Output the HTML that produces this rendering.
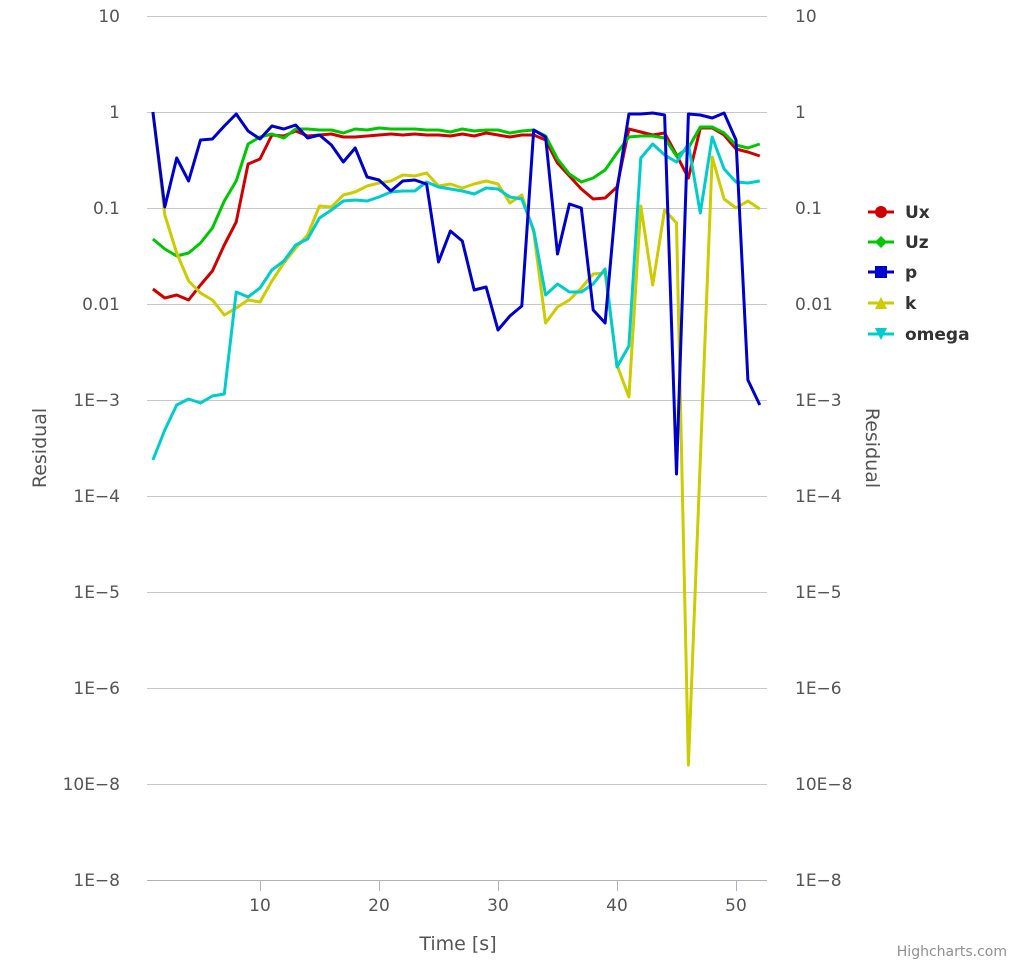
<!DOCTYPE html>
<html><head><meta charset="utf-8"><style>
body{margin:0;background:#fff;}
svg{display:block;font-family:"DejaVu Sans","Liberation Sans",sans-serif;}
</style></head><body>
<svg width="1024" height="964" viewBox="0 0 1024 964" xmlns="http://www.w3.org/2000/svg">
<g stroke="#c8c8c8" stroke-width="1">
<line x1="147" x2="767" y1="16.5" y2="16.5"/><line x1="147" x2="767" y1="112.5" y2="112.5"/>
<line x1="147" x2="767" y1="208.5" y2="208.5"/><line x1="147" x2="767" y1="304.5" y2="304.5"/>
<line x1="147" x2="767" y1="400.5" y2="400.5"/><line x1="147" x2="767" y1="496.5" y2="496.5"/>
<line x1="147" x2="767" y1="592.5" y2="592.5"/><line x1="147" x2="767" y1="688.5" y2="688.5"/>
<line x1="147" x2="767" y1="784.5" y2="784.5"/>
</g>
<line x1="147" x2="767" y1="880.5" y2="880.5" stroke="#b0b0c0"/>
<g stroke="#b0b0c0"><line x1="260.5" x2="260.5" y1="880" y2="891"/><line x1="379.5" x2="379.5" y1="880" y2="891"/><line x1="498.5" x2="498.5" y1="880" y2="891"/><line x1="617.5" x2="617.5" y1="880" y2="891"/><line x1="736.5" x2="736.5" y1="880" y2="891"/></g>
<g font-size="17" fill="#555" text-anchor="end">
<text x="120" y="22">10</text><text x="120" y="118">1</text><text x="120" y="214">0.1</text><text x="120" y="310">0.01</text><text x="120" y="406">1E−3</text><text x="120" y="502">1E−4</text><text x="120" y="598">1E−5</text><text x="120" y="694">1E−6</text><text x="120" y="790">10E−8</text><text x="120" y="886">1E−8</text>
</g>
<g font-size="17" fill="#555" text-anchor="start">
<text x="795" y="22">10</text><text x="795" y="118">1</text><text x="795" y="214">0.1</text><text x="795" y="310">0.01</text><text x="795" y="406">1E−3</text><text x="795" y="502">1E−4</text><text x="795" y="598">1E−5</text><text x="795" y="694">1E−6</text><text x="795" y="790">10E−8</text><text x="795" y="886">1E−8</text>
</g>
<g font-size="17" fill="#555" text-anchor="middle">
<text x="260" y="911">10</text><text x="379" y="911">20</text><text x="498" y="911">30</text><text x="617" y="911">40</text><text x="736" y="911">50</text>
</g>
<text x="458" y="950" font-size="19" fill="#555" text-anchor="middle">Time [s]</text>
<text transform="translate(46,448) rotate(-90)" font-size="19" fill="#555" text-anchor="middle">Residual</text>
<text transform="translate(866,448) rotate(90)" font-size="19" fill="#555" text-anchor="middle">Residual</text>
<text x="1007" y="956" font-size="14" fill="#909090" text-anchor="end">Highcharts.com</text>
<g fill="none" stroke-width="3" stroke-linejoin="round" id="series"></g>
<g font-size="17" font-weight="bold" fill="#333">
<line x1="868" x2="894" y1="212" y2="212" stroke="#d00000" stroke-width="3"/><circle cx="881" cy="212" r="6" fill="#d00000"/><text x="905" y="218">Ux</text>
<line x1="868" x2="894" y1="242" y2="242" stroke="#00c800" stroke-width="3"/><path d="M881 236 L887 242 L881 248 L875 242Z" fill="#00c800"/><text x="905" y="248">Uz</text>
<line x1="868" x2="894" y1="272" y2="272" stroke="#0000cc" stroke-width="3"/><rect x="875" y="266" width="12" height="12" fill="#0000cc"/><text x="905" y="278">p</text>
<line x1="868" x2="894" y1="303" y2="303" stroke="#cccc00" stroke-width="3"/><path d="M881 297 L887 309 L875 309Z" fill="#cccc00"/><text x="905" y="309">k</text>
<line x1="868" x2="894" y1="334" y2="334" stroke="#00cccc" stroke-width="3"/><path d="M875 328 L887 328 L881 340Z" fill="#00cccc"/><text x="905" y="340">omega</text>
</g>
<script>
var S=[
["#d00000",[289,298,295,300,285,271,245,222,164,159,135,136,131,136,135,134,137,137,136,135,134,135,134,135,135,136,134,136,133,135,137,135,135,140,163,176,189,199,198,187,129,132,135,133,155,178,128,128,135,149,152,156]],
["#00c800",[239,249,256,253,243,228,201,181,144,137,134,138,129,129,130,130,133,129,130,128,129,129,129,130,130,132,129,131,130,130,133,131,130,136,159,174,182,178,170,153,137,136,136,138,156,148,127,127,133,145,148,144]],
["#cccc00",[112,215,253,281,293,300,315,308,300,302,281,263,248,235,206,207,195,192,186,183,181,175,176,173,186,184,188,184,181,184,203,195,232,323,307,300,288,274,273,365,397,206,285,210,223,765,460,157,199,208,201,209]],
["#00cccc",[460,430,405,399,403,396,394,292,297,288,270,261,245,239,218,210,201,200,201,197,192,191,191,182,187,189,191,194,188,189,197,199,230,295,284,292,292,284,269,367,346,158,144,155,162,144,213,137,169,182,183,181]],
["#0000cc",[112,207,158,181,140,139,126,114,131,139,126,129,125,138,135,145,162,148,177,180,191,181,180,184,262,231,241,290,287,330,316,306,130,137,254,204,208,310,323,190,114,114,113,115,474,114,115,118,113,140,380,405]]
];
var g=document.getElementById("series"),ns="http://www.w3.org/2000/svg";
S.forEach(function(s){var p=document.createElementNS(ns,"polyline");p.setAttribute("stroke",s[0]);
p.setAttribute("points",s[1].map(function(y,i){return (152.9+11.9*i).toFixed(1)+","+y}).join(" "));g.appendChild(p);});
</script>
</svg>
</body></html>
